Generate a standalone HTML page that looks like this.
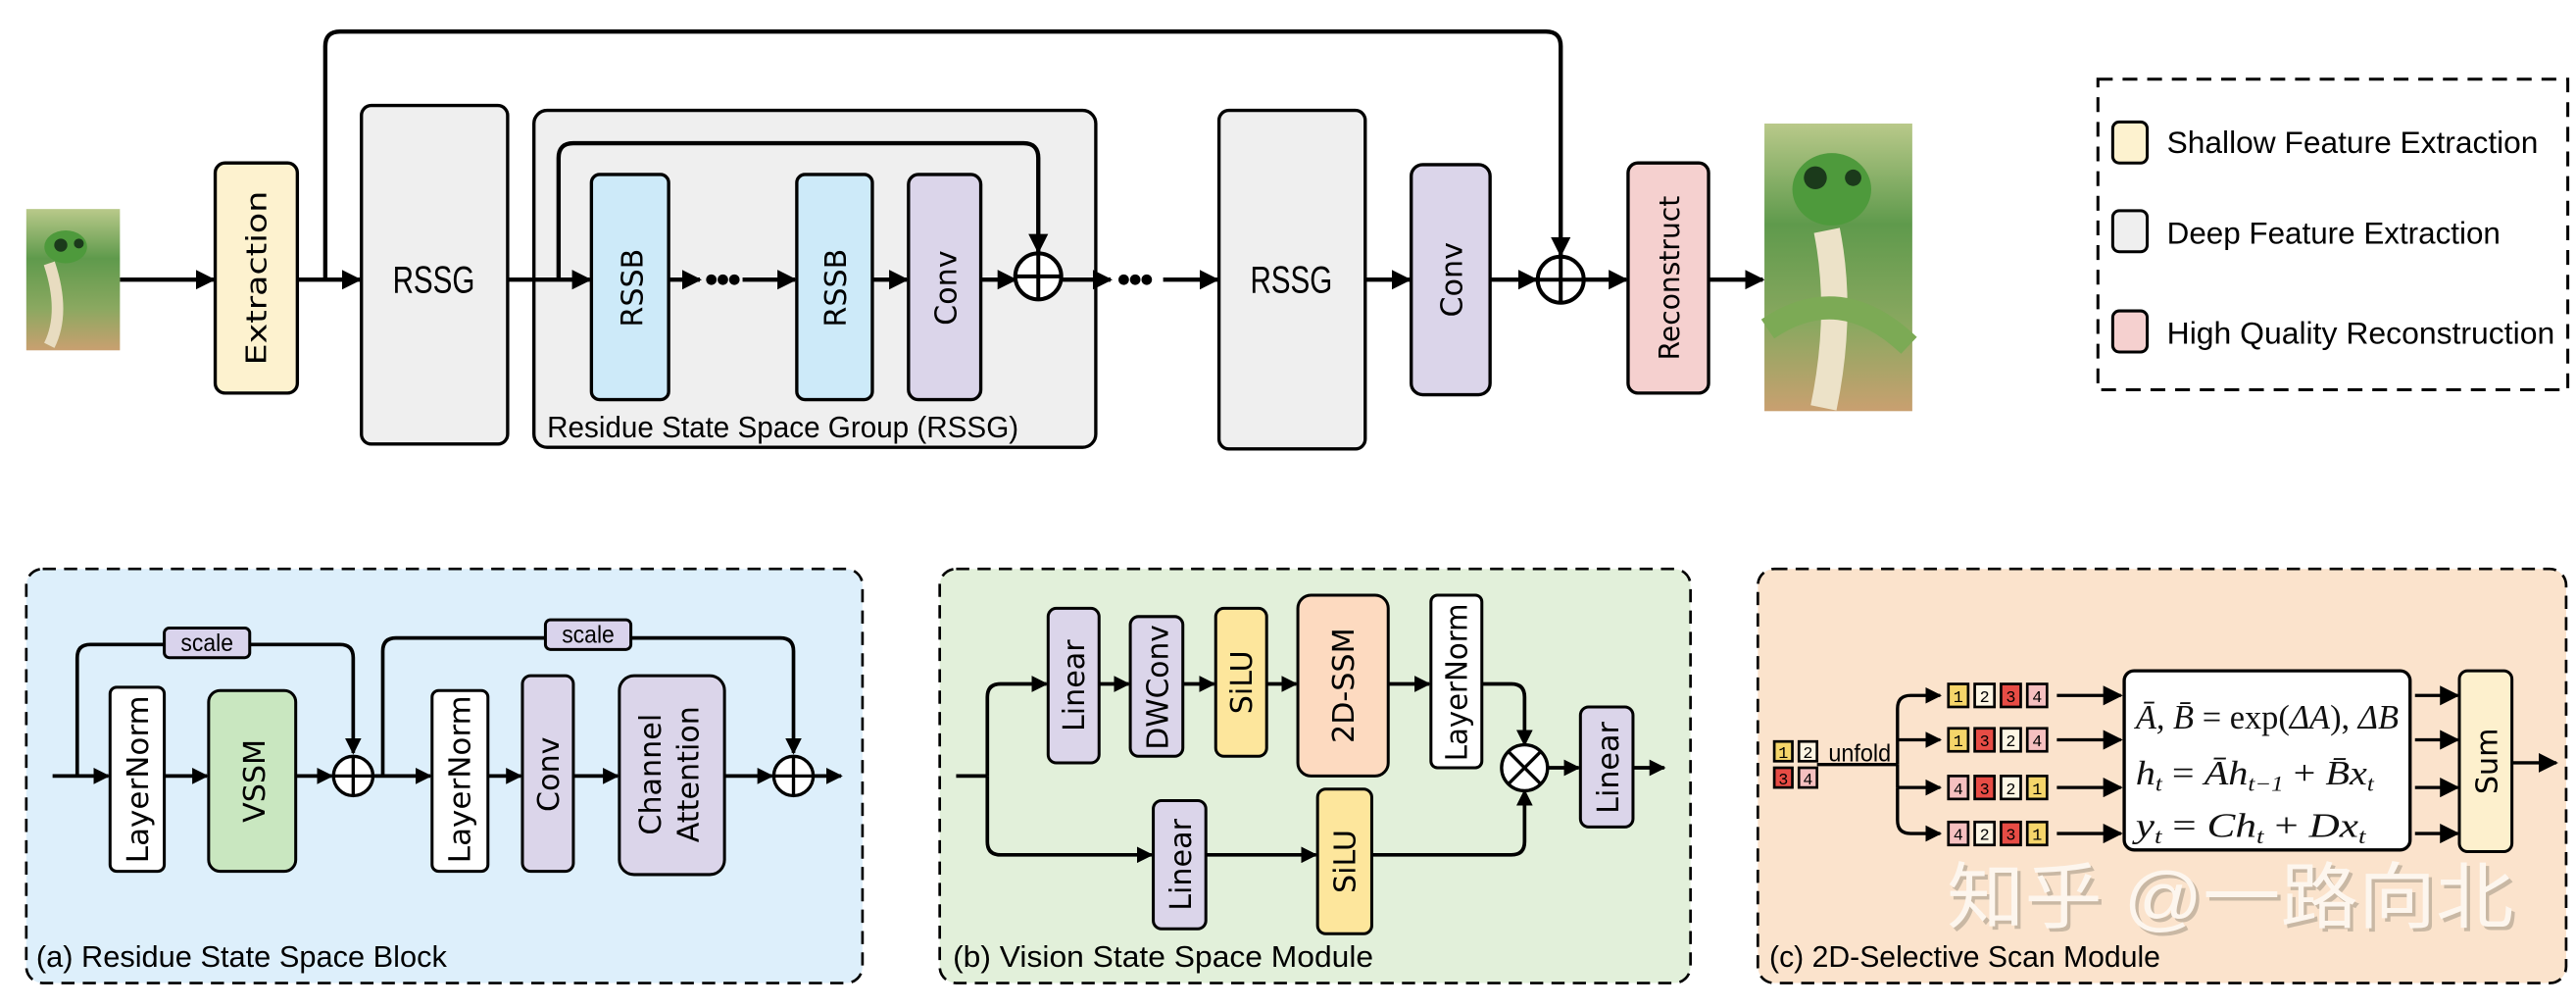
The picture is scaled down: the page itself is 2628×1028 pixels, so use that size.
<!DOCTYPE html>
<html><head><meta charset="utf-8"><style>
html,body{margin:0;padding:0;background:#fff;}
svg{display:block;}
.v{font-family:"DejaVu Sans",sans-serif;fill:#000;}
.n{font-family:"Liberation Sans",sans-serif;fill:#000;}
.m{font-family:"Liberation Serif",serif;fill:#111;}
</style></head><body>
<svg width="2628" height="1028" viewBox="0 0 1568 613" xmlns="http://www.w3.org/2000/svg">
<defs>
<marker id="ah" viewBox="0 0 10 10" refX="9" refY="5" markerWidth="12" markerHeight="12" markerUnits="userSpaceOnUse" orient="auto"><path d="M0,0 L10,5 L0,10 Z" fill="#000"/></marker>
<marker id="as" viewBox="0 0 10 10" refX="9" refY="5" markerWidth="10" markerHeight="10" markerUnits="userSpaceOnUse" orient="auto"><path d="M0,0 L10,5 L0,10 Z" fill="#000"/></marker>
<linearGradient id="snk" x1="0" y1="0" x2="0" y2="1"><stop offset="0" stop-color="#b9c98a"/><stop offset="0.35" stop-color="#5f9a4c"/><stop offset="0.7" stop-color="#8aa860"/><stop offset="1" stop-color="#c9a070"/></linearGradient>
</defs>
<rect width="1568" height="613" fill="#fff"/>

<g stroke="#000" stroke-width="2">
<rect x="131" y="99" width="50" height="140" rx="6" fill="#fdf2cf"/>
<rect x="220" y="64" width="89" height="206" rx="6" fill="#efefef"/>
<rect x="325" y="67" width="342" height="205" rx="8" fill="#efefef"/>
<rect x="742" y="67" width="89" height="206" rx="6" fill="#efefef"/>
<rect x="859" y="100" width="48" height="140" rx="7" fill="#dbd5ea"/>
<rect x="991" y="99" width="49" height="140" rx="6" fill="#f5d0cf"/>
</g>
<g stroke="#000" stroke-width="2.6" fill="none">
<path d="M198 170 V28 Q198 19 207 19 H941 Q950 19 950 28 V155" marker-end="url(#ah)"/>
<path d="M340 170 V96 Q340 87 349 87 H623 Q632 87 632 96 V153" marker-end="url(#ah)"/>
<line x1="73" y1="170" x2="130" y2="170" marker-end="url(#ah)"/>
<line x1="181" y1="170" x2="219" y2="170" marker-end="url(#ah)"/>
<line x1="309" y1="170" x2="359" y2="170" marker-end="url(#ah)"/>
<line x1="407" y1="170" x2="426" y2="170" marker-end="url(#ah)"/>
<line x1="452" y1="170" x2="484" y2="170" marker-end="url(#ah)"/>
<line x1="531" y1="170" x2="552" y2="170" marker-end="url(#ah)"/>
<line x1="597" y1="170" x2="618" y2="170" marker-end="url(#ah)"/>
<line x1="646" y1="170" x2="676" y2="170" marker-end="url(#ah)"/>
<line x1="708" y1="170" x2="741" y2="170" marker-end="url(#ah)"/>
<line x1="831" y1="170" x2="858" y2="170" marker-end="url(#ah)"/>
<line x1="907" y1="170" x2="935" y2="170" marker-end="url(#ah)"/>
<line x1="964" y1="170" x2="990" y2="170" marker-end="url(#ah)"/>
<line x1="1040" y1="170" x2="1073" y2="170" marker-end="url(#ah)"/>
</g>
<g stroke="#000" stroke-width="2">
<rect x="360" y="106" width="47" height="137" rx="5" fill="#cdeaf9"/>
<rect x="485" y="106" width="46" height="137" rx="5" fill="#cdeaf9"/>
<rect x="553" y="106" width="44" height="137" rx="6" fill="#dbd5ea"/>
</g>
<g fill="#000"><circle cx="433" cy="170" r="3.2"/><circle cx="440" cy="170" r="3.2"/><circle cx="447" cy="170" r="3.2"/>
<circle cx="684" cy="170" r="3.2"/><circle cx="691" cy="170" r="3.2"/><circle cx="698" cy="170" r="3.2"/></g>

<rect x="16" y="127" width="57" height="86" fill="url(#snk)"/>
<ellipse cx="40" cy="150" rx="13" ry="10" fill="#4e9a3c"/><circle cx="37" cy="149" r="4" fill="#1b3a1b"/><circle cx="48" cy="148" r="3" fill="#1b3a1b"/>
<path d="M30 160 Q40 190 30 210" stroke="#e8dcc0" stroke-width="7" fill="none"/>
<rect x="1074" y="75" width="90" height="175" fill="url(#snk)"/>
<ellipse cx="1115" cy="115" rx="24" ry="22" fill="#4e9a3c"/><circle cx="1105" cy="108" r="7" fill="#1b3a1b"/><circle cx="1128" cy="108" r="5" fill="#1b3a1b"/>
<path d="M1112 140 Q1122 190 1110 248" stroke="#ece2c8" stroke-width="16" fill="none"/>
<path d="M1076 200 Q1120 170 1162 210" stroke="#7caa55" stroke-width="14" fill="none"/>

<g stroke="#000" stroke-width="2.4" fill="#fff">
<circle cx="632" cy="168" r="14"/><line x1="618" y1="168" x2="646" y2="168"/><line x1="632" y1="154" x2="632" y2="182"/>
<circle cx="950" cy="170" r="14"/><line x1="936" y1="170" x2="964" y2="170"/><line x1="950" y1="156" x2="950" y2="184"/>
</g>
<text class="v" transform="translate(162,169) rotate(-90)" font-size="17" text-anchor="middle" textLength="106" lengthAdjust="spacingAndGlyphs">Extraction</text>
<text class="n" x="264" y="178" font-size="23" text-anchor="middle" textLength="50" lengthAdjust="spacingAndGlyphs">RSSG</text>
<text class="n" x="786" y="178" font-size="23" text-anchor="middle" textLength="50" lengthAdjust="spacingAndGlyphs">RSSG</text>
<text class="v" transform="translate(391,175) rotate(-90)" font-size="18" text-anchor="middle">RSSB</text>
<text class="v" transform="translate(515,175) rotate(-90)" font-size="18" text-anchor="middle">RSSB</text>
<text class="v" transform="translate(582,175) rotate(-90)" font-size="18" text-anchor="middle">Conv</text>
<text class="v" transform="translate(890,170) rotate(-90)" font-size="18" text-anchor="middle">Conv</text>
<text class="v" transform="translate(1022,169) rotate(-90)" font-size="17" text-anchor="middle" textLength="100" lengthAdjust="spacingAndGlyphs">Reconstruct</text>
<text class="n" x="333" y="266" font-size="18" textLength="287" lengthAdjust="spacingAndGlyphs">Residue State Space Group (RSSG)</text>

<rect x="1277" y="48" width="286" height="189" fill="none" stroke="#000" stroke-width="1.8" stroke-dasharray="9,6"/>
<g stroke="#000" stroke-width="1.8">
<rect x="1286" y="74" width="21" height="25" rx="4" fill="#fdf2cf"/>
<rect x="1286" y="128" width="21" height="25" rx="4" fill="#efefef"/>
<rect x="1286" y="189" width="21" height="25" rx="4" fill="#f5d0cf"/>
</g>
<text class="n" x="1319" y="93" font-size="19" textLength="226" lengthAdjust="spacingAndGlyphs">Shallow Feature Extraction</text>
<text class="n" x="1319" y="148" font-size="19" textLength="203" lengthAdjust="spacingAndGlyphs">Deep Feature Extraction</text>
<text class="n" x="1319" y="209" font-size="19" textLength="236" lengthAdjust="spacingAndGlyphs">High Quality Reconstruction</text>

<!-- PANEL A -->
<rect x="16" y="346" width="509" height="252" rx="10" fill="#ddeffb" stroke="#000" stroke-width="1.6" stroke-dasharray="8,5"/>
<g stroke="#000" stroke-width="2.2" fill="none">
<path d="M47 472 V400 Q47 392 55 392 H207 Q215 392 215 400 V458" marker-end="url(#as)"/>
<path d="M233 472 V396 Q233 388 241 388 H475 Q483 388 483 396 V458" marker-end="url(#as)"/>
<line x1="32" y1="472" x2="66" y2="472" marker-end="url(#as)"/>
<line x1="100" y1="472" x2="126" y2="472" marker-end="url(#as)"/>
<line x1="180" y1="472" x2="202" y2="472" marker-end="url(#as)"/>
<line x1="227" y1="472" x2="262" y2="472" marker-end="url(#as)"/>
<line x1="297" y1="472" x2="317" y2="472" marker-end="url(#as)"/>
<line x1="349" y1="472" x2="376" y2="472" marker-end="url(#as)"/>
<line x1="441" y1="472" x2="470" y2="472" marker-end="url(#as)"/>
<line x1="495" y1="472" x2="512" y2="472" marker-end="url(#as)"/>
</g>
<g stroke="#000" stroke-width="1.8">
<rect x="100" y="382" width="52" height="18" rx="3" fill="#d9d3ec"/>
<rect x="332" y="377" width="52" height="18" rx="3" fill="#d9d3ec"/>
<rect x="67" y="418" width="33" height="112" rx="4" fill="#fff"/>
<rect x="127" y="420" width="53" height="110" rx="7" fill="#c9e7c0"/>
<rect x="263" y="420" width="34" height="110" rx="4" fill="#fff"/>
<rect x="318" y="411" width="31" height="119" rx="5" fill="#dbd5ea"/>
<rect x="377" y="411" width="64" height="121" rx="9" fill="#dbd5ea"/>
</g>
<g stroke="#000" stroke-width="2" fill="#fff">
<circle cx="215" cy="472" r="12"/><line x1="203" y1="472" x2="227" y2="472"/><line x1="215" y1="460" x2="215" y2="484"/>
<circle cx="483" cy="472" r="12"/><line x1="471" y1="472" x2="495" y2="472"/><line x1="483" y1="460" x2="483" y2="484"/>
</g>
<text class="n" x="126" y="396" font-size="15" text-anchor="middle" textLength="32" lengthAdjust="spacingAndGlyphs">scale</text>
<text class="n" x="358" y="391" font-size="15" text-anchor="middle" textLength="32" lengthAdjust="spacingAndGlyphs">scale</text>
<text class="v" transform="translate(90,474) rotate(-90)" font-size="18" text-anchor="middle" textLength="102" lengthAdjust="spacingAndGlyphs">LayerNorm</text>
<text class="v" transform="translate(161,475) rotate(-90)" font-size="18" text-anchor="middle">VSSM</text>
<text class="v" transform="translate(286,474) rotate(-90)" font-size="18" text-anchor="middle" textLength="102" lengthAdjust="spacingAndGlyphs">LayerNorm</text>
<text class="v" transform="translate(340,471) rotate(-90)" font-size="18" text-anchor="middle">Conv</text>
<text class="v" transform="translate(402,471) rotate(-90)" font-size="18" text-anchor="middle">Channel</text>
<text class="v" transform="translate(425,471) rotate(-90)" font-size="18" text-anchor="middle">Attention</text>
<text class="n" x="22" y="588" font-size="18" textLength="250" lengthAdjust="spacingAndGlyphs">(a) Residue State Space Block</text>

<!-- PANEL B -->
<rect x="572" y="346" width="457" height="252" rx="10" fill="#e2f0da" stroke="#000" stroke-width="1.6" stroke-dasharray="8,5"/>
<g stroke="#000" stroke-width="2.2" fill="none">
<line x1="582" y1="472" x2="601" y2="472"/>
<path d="M601 472 V424 Q601 416 609 416 H637" marker-end="url(#as)"/>
<path d="M601 472 V512 Q601 520 609 520 H701" marker-end="url(#as)"/>
<line x1="669" y1="416" x2="687" y2="416" marker-end="url(#as)"/>
<line x1="720" y1="416" x2="739" y2="416" marker-end="url(#as)"/>
<line x1="771" y1="416" x2="789" y2="416" marker-end="url(#as)"/>
<line x1="845" y1="416" x2="870" y2="416" marker-end="url(#as)"/>
<path d="M902 416 H920 Q928 416 928 424 V453" marker-end="url(#as)"/>
<line x1="734" y1="520" x2="801" y2="520" marker-end="url(#as)"/>
<path d="M835 520 H920 Q928 520 928 512 V481" marker-end="url(#as)"/>
<line x1="942" y1="467" x2="961" y2="467" marker-end="url(#as)"/>
<line x1="994" y1="467" x2="1013" y2="467" marker-end="url(#as)"/>
</g>
<g stroke="#000" stroke-width="1.8">
<rect x="638" y="370" width="31" height="94" rx="5" fill="#dbd5ea"/>
<rect x="688" y="375" width="32" height="85" rx="5" fill="#dbd5ea"/>
<rect x="740" y="370" width="31" height="90" rx="5" fill="#fde69c"/>
<rect x="790" y="362" width="55" height="110" rx="8" fill="#fddac0"/>
<rect x="871" y="362" width="31" height="105" rx="4" fill="#fff"/>
<rect x="962" y="430" width="32" height="73" rx="5" fill="#dbd5ea"/>
<rect x="702" y="487" width="32" height="78" rx="5" fill="#dbd5ea"/>
<rect x="802" y="480" width="33" height="88" rx="5" fill="#fde69c"/>
</g>
<g stroke="#000" stroke-width="2" fill="#fff">
<circle cx="928" cy="467" r="14"/><line x1="918" y1="457" x2="938" y2="477"/><line x1="938" y1="457" x2="918" y2="477"/>
</g>
<text class="v" transform="translate(660,417) rotate(-90)" font-size="18" text-anchor="middle">Linear</text>
<text class="v" transform="translate(711,418) rotate(-90)" font-size="18" text-anchor="middle" textLength="76" lengthAdjust="spacingAndGlyphs">DWConv</text>
<text class="v" transform="translate(762,415) rotate(-90)" font-size="18" text-anchor="middle">SiLU</text>
<text class="v" transform="translate(824,417) rotate(-90)" font-size="18" text-anchor="middle">2D-SSM</text>
<text class="v" transform="translate(893,415) rotate(-90)" font-size="18" text-anchor="middle" textLength="96" lengthAdjust="spacingAndGlyphs">LayerNorm</text>
<text class="v" transform="translate(985,467) rotate(-90)" font-size="18" text-anchor="middle">Linear</text>
<text class="v" transform="translate(725,526) rotate(-90)" font-size="18" text-anchor="middle">Linear</text>
<text class="v" transform="translate(825,524) rotate(-90)" font-size="18" text-anchor="middle">SiLU</text>
<text class="n" x="580" y="588" font-size="18" textLength="256" lengthAdjust="spacingAndGlyphs">(b) Vision State Space Module</text>

<!-- PANEL C -->
<rect x="1070" y="346" width="492" height="252" rx="10" fill="#fbe3cc" stroke="#000" stroke-width="1.6" stroke-dasharray="8,5"/>
<text x="1187" y="563" font-family="'Liberation Sans','Noto Sans CJK SC',sans-serif" font-size="44" fill="#c9b8a4" textLength="345" lengthAdjust="spacingAndGlyphs">知乎 @一路向北</text>
<text x="1185" y="561" font-family="'Liberation Sans','Noto Sans CJK SC',sans-serif" font-size="44" fill="#fdf6ee" textLength="345" lengthAdjust="spacingAndGlyphs">知乎 @一路向北</text>
<g stroke="#000" stroke-width="1.6">
<rect x="1080" y="451" width="11" height="12" fill="#f5d56a"/>
<rect x="1095" y="451" width="11" height="12" fill="#fdf6e4"/>
<rect x="1080" y="467" width="11" height="12" fill="#e74c45"/>
<rect x="1095" y="467" width="11" height="12" fill="#f5c0c0"/>
</g>
<g font-family="Liberation Mono,monospace" font-size="10" text-anchor="middle" fill="#000">
<text x="1085.5" y="461">1</text><text x="1100.5" y="461">2</text><text x="1085.5" y="477">3</text><text x="1100.5" y="477">4</text>
</g>
<text class="n" x="1113" y="463" font-size="15" textLength="38" lengthAdjust="spacingAndGlyphs">unfold</text>
<g stroke="#000" stroke-width="2" fill="none">
<line x1="1106" y1="465" x2="1155" y2="465"/>
<path d="M1155 465 V431 Q1155 423 1163 423 H1181" marker-end="url(#as)"/>
<line x1="1155" y1="450" x2="1181" y2="450" marker-end="url(#as)"/>
<line x1="1155" y1="465" x2="1155" y2="479"/>
<line x1="1155" y1="479" x2="1181" y2="479" marker-end="url(#as)"/>
<path d="M1155 479 V499 Q1155 507 1163 507 H1181" marker-end="url(#as)"/>
<line x1="1252" y1="423" x2="1291" y2="423" marker-end="url(#ah)"/>
<line x1="1252" y1="450" x2="1291" y2="450" marker-end="url(#ah)"/>
<line x1="1252" y1="479" x2="1291" y2="479" marker-end="url(#ah)"/>
<line x1="1252" y1="507" x2="1291" y2="507" marker-end="url(#ah)"/>
<line x1="1470" y1="423" x2="1496" y2="423" marker-end="url(#ah)"/>
<line x1="1470" y1="450" x2="1496" y2="450" marker-end="url(#ah)"/>
<line x1="1470" y1="479" x2="1496" y2="479" marker-end="url(#ah)"/>
<line x1="1470" y1="507" x2="1496" y2="507" marker-end="url(#ah)"/>
<line x1="1529" y1="464" x2="1556" y2="464" marker-end="url(#ah)"/>
</g>
<g stroke="#000" stroke-width="1.6">
<rect x="1186" y="416" width="12" height="14" fill="#f5d56a"/><rect x="1202" y="416" width="12" height="14" fill="#fdf6e4"/><rect x="1218" y="416" width="12" height="14" fill="#e74c45"/><rect x="1234" y="416" width="12" height="14" fill="#f5c0c0"/>
<rect x="1186" y="443" width="12" height="14" fill="#f5d56a"/><rect x="1202" y="443" width="12" height="14" fill="#e74c45"/><rect x="1218" y="443" width="12" height="14" fill="#fdf6e4"/><rect x="1234" y="443" width="12" height="14" fill="#f5c0c0"/>
<rect x="1186" y="472" width="12" height="14" fill="#f5c0c0"/><rect x="1202" y="472" width="12" height="14" fill="#e74c45"/><rect x="1218" y="472" width="12" height="14" fill="#fdf6e4"/><rect x="1234" y="472" width="12" height="14" fill="#f5d56a"/>
<rect x="1186" y="500" width="12" height="14" fill="#f5c0c0"/><rect x="1202" y="500" width="12" height="14" fill="#fdf6e4"/><rect x="1218" y="500" width="12" height="14" fill="#e74c45"/><rect x="1234" y="500" width="12" height="14" fill="#f5d56a"/>
</g>
<g font-family="Liberation Mono,monospace" font-size="10" text-anchor="middle" fill="#000">
<text x="1192" y="427">1</text><text x="1208" y="427">2</text><text x="1224" y="427">3</text><text x="1240" y="427">4</text>
<text x="1192" y="454">1</text><text x="1208" y="454">3</text><text x="1224" y="454">2</text><text x="1240" y="454">4</text>
<text x="1192" y="483">4</text><text x="1208" y="483">3</text><text x="1224" y="483">2</text><text x="1240" y="483">1</text>
<text x="1192" y="511">4</text><text x="1208" y="511">2</text><text x="1224" y="511">3</text><text x="1240" y="511">1</text>
</g>
<rect x="1293" y="408" width="174" height="109" rx="6" fill="#fff" stroke="#000" stroke-width="2"/>
<rect x="1497" y="408" width="32" height="110" rx="5" fill="#fdf0cd" stroke="#000" stroke-width="1.8"/>
<text class="v" transform="translate(1520,463) rotate(-90)" font-size="18" text-anchor="middle">Sum</text>
<text class="m" x="1300" y="443" font-size="21" font-style="italic" textLength="160" lengthAdjust="spacingAndGlyphs">Ā, B̄ <tspan font-style="normal">= exp(</tspan>ΔA<tspan font-style="normal">), </tspan>ΔB</text>
<text class="m" x="1300" y="477" font-size="21" font-style="italic" textLength="145" lengthAdjust="spacingAndGlyphs">h<tspan font-size="13" dy="4">t</tspan><tspan dy="-4" font-style="normal"> = </tspan>Āh<tspan font-size="13" dy="4">t−1</tspan><tspan dy="-4" font-style="normal"> + </tspan>B̄x<tspan font-size="13" dy="4">t</tspan></text>
<text class="m" x="1300" y="509" font-size="21" font-style="italic" textLength="140" lengthAdjust="spacingAndGlyphs">y<tspan font-size="13" dy="4">t</tspan><tspan dy="-4" font-style="normal"> = </tspan>Ch<tspan font-size="13" dy="4">t</tspan><tspan dy="-4" font-style="normal"> + </tspan>Dx<tspan font-size="13" dy="4">t</tspan></text>
<text class="n" x="1077" y="588" font-size="18" textLength="238" lengthAdjust="spacingAndGlyphs">(c) 2D-Selective Scan Module</text>
</svg>
</body></html>
